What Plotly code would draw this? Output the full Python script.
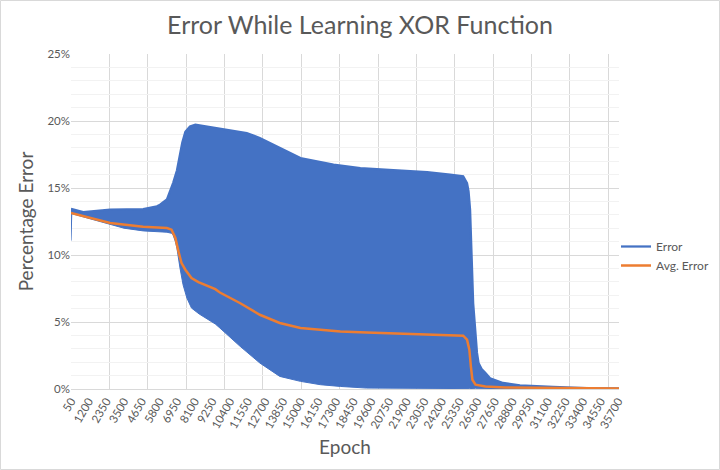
import plotly.graph_objects as go

# ---- data (percent values) ----
tick_labels = ["50", "1200", "2350", "3500", "4650", "5800", "6950", "8100", "9250",
               "10400", "11550", "12700", "13850", "15000", "16150", "17300", "18450",
               "19600", "20750", "21900", "23050", "24200", "25350", "26500", "27650",
               "28800", "29950", "31100", "32250", "33400", "34550", "35700"]
tick_epochs = [int(t) for t in tick_labels]

err_upper_epoch = [50, 850, 2600, 4750, 5650, 5850, 6300, 6700, 6950, 7150, 7300, 7500,
                   7800, 8150, 8800, 9450, 10000, 11500, 12350, 13450, 15000, 17150,
                   18900, 21050, 23250, 24750, 25600, 25850, 25950, 26050, 26150, 26250,
                   26400, 26500, 26600, 26800, 27050, 27350, 28200, 29300, 31450, 33650,
                   35750]
err_upper = [13.45, 13.20, 13.38, 13.43, 13.63, 13.75, 14.15, 15.37, 16.3, 17.4, 18.4, 19.2,
             19.6, 19.72, 19.6, 19.43, 19.33, 19.1, 18.73, 18.1, 17.24, 16.74,
             16.49, 16.34, 16.19, 15.99, 15.87, 15.37, 14.75, 13.38, 9.65, 6.42,
             4.18, 2.69, 1.94, 1.49, 1.2, 0.8, 0.45, 0.27, 0.15, 0.07,
             0.05]

err_lower_epoch = [50, 100, 300, 2600, 3500, 4750, 6300, 6600, 6700, 6850, 6950, 7150, 7350,
                   7600, 7900, 8400, 9450, 9750, 11050, 12350, 13650, 15000, 16300,
                   17600, 19300, 26000, 26250, 26400, 28000, 35750]
err_lower = [11.07, 13.10, 13.02, 12.25, 12.0, 11.8, 11.7, 11.62, 11.5, 11.0, 10.52, 9.03, 7.78,
             6.79, 6.04, 5.6, 4.85, 4.55, 3.2, 1.94, 0.94, 0.57, 0.32,
             0.19, 0.07, 0.03, 0.05, 0.05, 0.03, 0.01]

avg_epoch = [50, 2600, 4750, 6300, 6600, 6850, 7050, 7250, 7500, 7900, 8350, 9450, 9750,
             11050, 12350, 13650, 15000, 16300, 17600, 19300, 22150, 25600, 25850, 26000,
             26100, 26200, 26400, 27050, 28350, 31450, 35750]
avg_err = [13.13, 12.39, 12.11, 12.01, 11.89, 11.27, 10.27, 9.4, 8.9, 8.28, 7.98, 7.45, 7.2,
           6.42, 5.54, 4.93, 4.55, 4.43, 4.3, 4.22, 4.1, 3.98, 3.68, 2.93,
           1.69, 0.69, 0.32, 0.19, 0.12, 0.07, 0.03]

BLUE = "#4472C4"
ORANGE = "#ED7D31"
GREY = "#595959"
FONT = "Lato"

fig = go.Figure()
fig.add_trace(go.Scatter(x=err_upper_epoch, y=err_upper, mode="lines", name="Error",
                         line=dict(color=BLUE, width=2.25), showlegend=True))
fig.add_trace(go.Scatter(x=err_lower_epoch, y=err_lower, mode="lines", name="Error",
                         line=dict(color=BLUE, width=1), fill="tonexty",
                         fillcolor=BLUE, showlegend=False, hoverinfo="skip"))
fig.add_trace(go.Scatter(x=avg_epoch, y=avg_err, mode="lines", name="Avg. Error",
                         line=dict(color=ORANGE, width=2.5)))

L, R, T, B = 71, 101, 54, 81
W, H = 720, 470
pw, ph = W - L - R, H - T - B

fig.update_layout(
    width=W, height=H,
    margin=dict(l=L, r=R, t=T, b=B, autoexpand=False),
    paper_bgcolor="white", plot_bgcolor="white",
    font=dict(family=FONT, color=GREY, size=12),
    title=dict(text="Error While Learning XOR Function", x=0.5, xref="container",
               y=1 - 25 / H, yanchor="middle", xanchor="center",
               font=dict(size=25, color=GREY, family=FONT)),
    legend=dict(x=(616 - L) / pw, y=(H - B - 232) / ph, xanchor="left", yanchor="top",
                font=dict(size=12, color=GREY), itemwidth=30, tracegroupgap=4,
                traceorder="normal", bgcolor="rgba(0,0,0,0)"),
    shapes=[dict(type="rect", xref="paper", yref="paper",
                 x0=(0.5 - L) / pw, x1=(W - 0.5 - L) / pw,
                 y0=(H - B - (H - 0.5)) / ph, y1=(H - B - 0.5) / ph,
                 line=dict(color="#D9D9D9", width=1), layer="below")],
)

fig.update_xaxes(
    type="linear", range=[50, 35750], automargin=False,
    tickmode="array", tickvals=tick_epochs, ticktext=tick_labels,
    tickangle=-60, tickfont=dict(size=11.5, color=GREY),
    showgrid=False, zeroline=False, ticks="",
    showline=True, linecolor="#D9D9D9", linewidth=1,
    minor=dict(tickmode="linear", tick0=50, dtick=2500, showgrid=True,
               gridcolor="#D9D9D9", gridwidth=1, ticks=""),
    title=dict(text="Epoch", font=dict(size=19, color=GREY), standoff=10),
)
fig.update_yaxes(
    range=[0, 25], dtick=5, tick0=0, ticksuffix="%", automargin=False,
    tickfont=dict(size=11.5, color=GREY),
    showgrid=True, gridcolor="#D9D9D9", gridwidth=1, zeroline=False, ticks="",
    minor=dict(dtick=1, showgrid=True, gridcolor="#F2F2F2", gridwidth=1, ticks=""),
    title=dict(text="Percentage Error", font=dict(size=19, color=GREY), standoff=8),
)

fig.write_html("out.html", config={"displayModeBar": False},
               post_script="document.body.style.margin='0px';")
